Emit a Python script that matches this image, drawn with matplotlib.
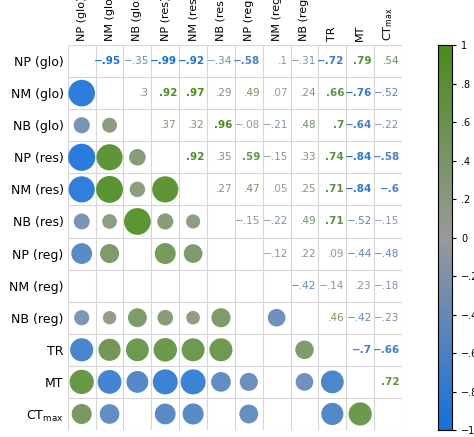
import numpy as np
import matplotlib.pyplot as plt
from matplotlib.colors import LinearSegmentedColormap

labels = ["NP (glo)", "NM (glo)", "NB (glo)", "NP (res)", "NM (res)", "NB (res)",
          "NP (reg)", "NM (reg)", "NB (reg)", "TR", "MT", "CT$_{\\mathregular{max}}$"]

# upper triangle, row by row (starting right of the diagonal)
upper = [
    [-.95, -.35, -.99, -.92, -.34, -.58, .1, -.31, -.72, .79, .54],
    [.3, .92, .97, .29, .49, .07, .24, .66, -.76, -.52],
    [.37, .32, .96, -.08, -.21, .48, .7, -.64, -.22],
    [.92, .35, .59, -.15, .33, .74, -.84, -.58],
    [.27, .47, .05, .25, .71, -.84, -.6],
    [-.15, -.22, .49, .71, -.52, -.15],
    [-.12, .22, .09, -.44, -.48],
    [-.42, -.14, .23, -.18],
    [.46, -.42, -.23],
    [-.7, -.66],
    [.72],
]
sig_level = 0.235  # circles shown only for |r| above this

n = len(labels)
R = np.eye(n)
for i, row in enumerate(upper):
    for k, v in enumerate(row):
        R[i, i + 1 + k] = v
        R[i + 1 + k, i] = v

cmap = LinearSegmentedColormap.from_list("bg", ["#1670dc", "#9a9a9a", "#4a8c1c"])

fig = plt.figure(figsize=(4.74, 4.37), dpi=100)
ax = fig.add_axes([0.143, 0.016, 0.705, 0.881])
ax.set_xlim(-0.5, n - 0.5)
ax.set_ylim(n - 0.5, -0.5)

for k in range(n + 1):
    ax.axhline(k - 0.5, color="#d6d6d6", lw=0.8)
    ax.axvline(k - 0.5, color="#d6d6d6", lw=0.8)

cell_pt = 0.705 * 4.74 * 72 / n
for i in range(n):
    for j in range(n):
        if j > i:
            v = R[i, j]
            s = f"{v:.2f}".rstrip("0").replace("0.", ".").replace("-", "\u2212")
            if s.endswith("."):
                s = s[:-1]
            ax.text(j + 0.42, i, s, ha="right", va="center", fontsize=7.5,
                    color=cmap((v + 1) / 2),
                    fontweight="bold" if abs(v) >= 0.55 else "normal")
        elif j < i and abs(R[i, j]) > sig_level:
            v = R[i, j]
            d = np.sqrt(abs(v)) * cell_pt * 0.98
            ax.scatter(j, i, s=d ** 2, color=cmap((v + 1) / 2), alpha=0.92,
                       edgecolors="none", zorder=3)

ax.set_xticks(range(n))
ax.set_xticklabels(labels, rotation=90, fontsize=8)
ax.xaxis.tick_top()
ax.set_yticks(range(n))
ax.set_yticklabels(labels, fontsize=9)
ax.tick_params(length=0, pad=3)
for sp in ax.spines.values():
    sp.set_visible(False)

cax = fig.add_axes([0.924, 0.016, 0.03, 0.881])
grad = np.linspace(-1, 1, 256).reshape(-1, 1)
cax.imshow(grad, aspect="auto", cmap=cmap, origin="lower", extent=[0, 1, -1, 1])
cax.set_xticks([])
ticks = np.arange(-1, 1.01, 0.2)
cax.yaxis.tick_right()
cax.set_yticks(ticks)
cax.set_yticklabels([f"{t:.1f}".replace("0.", ".").replace("-", "\u2212").replace(".0", "")
                     if abs(t) > 1e-9 else "0" for t in ticks], fontsize=7)
cax.tick_params(length=3)

fig.savefig("out.png", dpi=100)
